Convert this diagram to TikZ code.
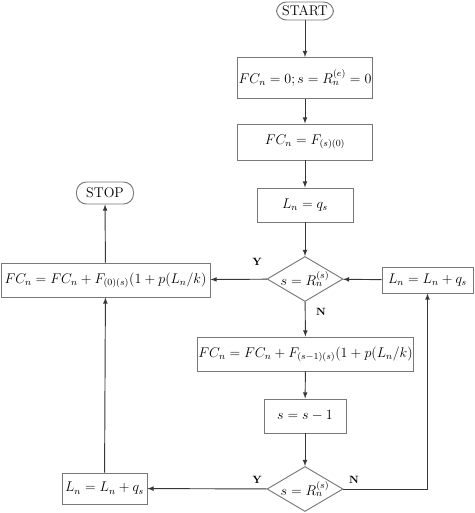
\documentclass[tikz,border=0pt]{standalone}
\usepackage{tikz}
\usetikzlibrary{shapes.geometric, arrows, positioning}
\usepackage{amsmath}
\usepackage{xcolor}
\definecolor{boxgray}{RGB}{120,120,120}
\definecolor{linegray}{RGB}{55,55,55}

\begin{document}
\begin{tikzpicture}[x=0.03cm, y=-0.03cm, >=latex, auto,
    main/.style = {draw=boxgray, line width=0.8pt, rectangle, inner sep=1pt, font=\large},
    term/.style = {main, rounded corners=3mm},
    test/.style = {main, diamond, aspect=1.7, inner sep=0pt, minimum width=2.28cm, minimum height=1.35cm},
    lbl/.style = {font=\small\bfseries, text=black}]
      \useasboundingbox (0,0) rectangle (474,513);

      \node[term, minimum width=1.71cm, minimum height=0.54cm] (0) at (305,11) {START};
      \node[main, minimum width=4.05cm, minimum height=1.23cm] (1) at (305,78) {$FC_n=0;s=R_n^{(e)}=0$};
      \node[main, minimum width=4.05cm, minimum height=1.08cm] (2) at (305,142) {$FC_n=F_{(s)(0)}$};
      \node[main, minimum width=2.88cm, minimum height=1.02cm] (3) at (305,205) {$L_n=q_s$};
      \node[test] (4) at (305,279) {$s=R_n^{(s)}$};
      \node[main, minimum width=6.27cm, minimum height=1.02cm] (5) at (105.5,280) {$FC_n=FC_n+F_{(0)(s)}(1+p(L_n/k)$};
      \node[term, minimum width=1.71cm, minimum height=0.66cm] (6) at (105,193) {STOP};
      \node[main, minimum width=2.73cm, minimum height=0.78cm] (7) at (427.5,280) {$L_n=L_n+q_s$};
      \node[main, minimum width=6.27cm, minimum height=1.02cm] (8) at (305.5,354) {$FC_n=FC_n+F_{(s-1)(s)}(1+p(L_n/k)$};
      \node[main, minimum width=2.46cm, minimum height=1.02cm] (9) at (305,416) {$s=s-1$};
      \node[test] (10) at (305,489) {$s=R_n^{(s)}$};
      \node[main, minimum width=2.55cm, minimum height=0.93cm] (11) at (104.5,488.5) {$L_n=L_n+q_s$};

      \node[lbl] (y1) at (257,262) {Y};
      \node[lbl] (n1) at (321,312) {N};
      \node[lbl] (y2) at (257,480) {Y};
      \node[lbl] (n2) at (354,480) {N};

      \path[->, every edge/.style={draw=linegray, line width=0.8pt}]
      (0) edge (1)
      (1) edge (2)
      (2) edge (3)
      (3) edge (4)
      (4) edge (5)
      (4) edge (8)
      (8) edge (9)
      (9) edge (10)
      (10) edge (11)
      (7) edge (4)
      (11) edge (5)
      (5) edge (6);
      \draw[->, draw=linegray, line width=0.8pt] (10.east) -| (7.south);
\end{tikzpicture}
\end{document}
